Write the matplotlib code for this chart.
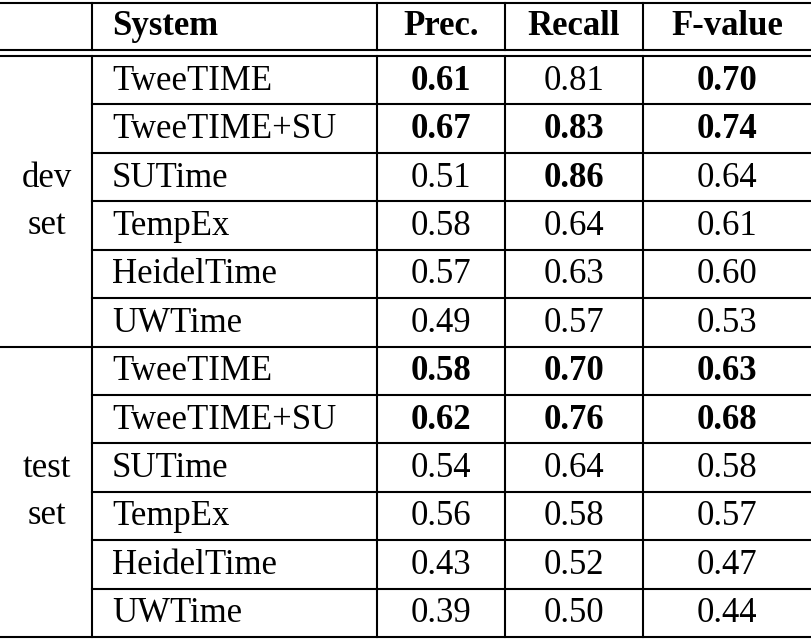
import matplotlib
matplotlib.use("Agg")
import matplotlib.pyplot as plt

headers = ["System", "Prec.", "Recall", "F-value"]
systems = ["TweeTIME", "TweeTIME+SU", "SUTime", "TempEx", "HeidelTime", "UWTime"]
dev_prec = ["0.61", "0.67", "0.51", "0.58", "0.57", "0.49"]
dev_rec = ["0.81", "0.83", "0.86", "0.64", "0.63", "0.57"]
dev_f = ["0.70", "0.74", "0.64", "0.61", "0.60", "0.53"]
dev_bold = [[1, 0, 1], [1, 1, 1], [0, 1, 0], [0, 0, 0], [0, 0, 0], [0, 0, 0]]
test_prec = ["0.58", "0.62", "0.54", "0.56", "0.43", "0.39"]
test_rec = ["0.70", "0.76", "0.64", "0.58", "0.52", "0.50"]
test_f = ["0.63", "0.68", "0.58", "0.57", "0.47", "0.44"]
test_bold = [[1, 1, 1], [1, 1, 1], [0, 0, 0], [0, 0, 0], [0, 0, 0], [0, 0, 0]]

fig = plt.figure(figsize=(8.11, 6.41), dpi=100)
ax = fig.add_axes([0, 0, 1, 1])
ax.set_xlim(0, 811); ax.set_ylim(641, 0); ax.axis("off")
FONT = "Liberation Serif"; FS = 25
lw = 1.5
xs = [92, 377, 505, 643]
centers = [441, 574, 727]
top, h1, h2 = 3, 50, 56
rowh = (637 - 56) / 12
bottom = 637

ax.plot([0, 811], [top, top], color="k", lw=lw)
ax.plot([0, 811], [h1, h1], color="k", lw=lw)
ax.plot([0, 811], [h2, h2], color="k", lw=lw)
ax.plot([0, 811], [bottom, bottom], color="k", lw=lw)
for x in xs:
    ax.plot([x, x], [top, h1], color="k", lw=lw)
    ax.plot([x, x], [h2, bottom], color="k", lw=lw)

hy = (top + h1) / 2
ax.text(112, hy, headers[0], fontfamily=FONT, fontsize=FS, fontweight="bold", va="center", ha="left")
for c, t in zip(centers, headers[1:]):
    ax.text(c, hy, t, fontfamily=FONT, fontsize=FS, fontweight="bold", va="center", ha="center")

for g, (p, r, f, b, lab) in enumerate([(dev_prec, dev_rec, dev_f, dev_bold, ("dev", "set")),
                                      (test_prec, test_rec, test_f, test_bold, ("test", "set"))]):
    y0 = h2 + g * 6 * rowh
    if g == 1:
        ax.plot([0, 811], [y0, y0], color="k", lw=lw)
    for i in range(6):
        yc = y0 + (i + 0.5) * rowh
        if i > 0:
            ax.plot([92, 811], [y0 + i * rowh] * 2, color="k", lw=lw)
        ax.text(112, yc + 1, systems[i], fontfamily=FONT, fontsize=FS, va="center", ha="left")
        for j, vals in enumerate([p, r, f]):
            ax.text(centers[j], yc + 1, vals[i], fontfamily=FONT, fontsize=FS, va="center", ha="center",
                    fontweight="bold" if b[i][j] else "normal")
    mid = y0 + 3 * rowh
    ax.text(47, mid - 23, lab[0], fontfamily=FONT, fontsize=FS, va="center", ha="center")
    ax.text(47, mid + 24, lab[1], fontfamily=FONT, fontsize=FS, va="center", ha="center")

fig.savefig("out.png", dpi=100)
